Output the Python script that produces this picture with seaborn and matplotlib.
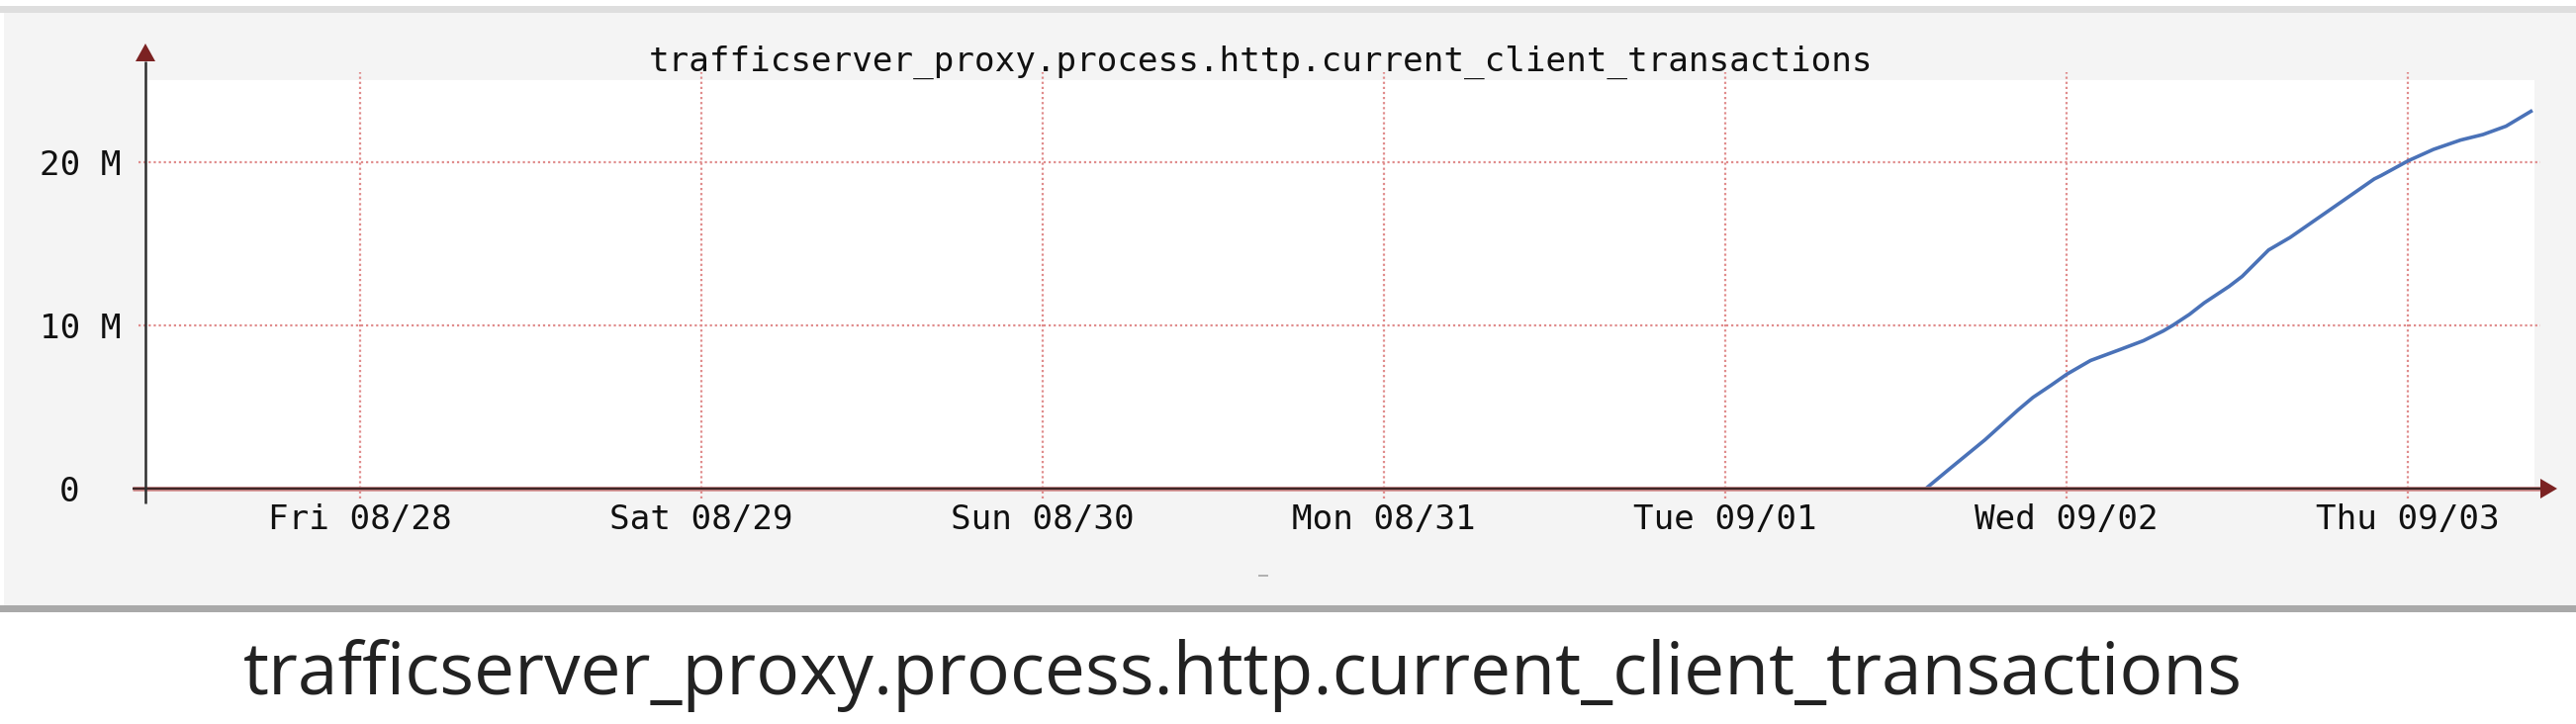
import pandas as pd
import seaborn as sns
import matplotlib.pyplot as plt
import matplotlib.dates as mdates
from matplotlib.patches import Rectangle, Polygon
from matplotlib.lines import Line2D
from matplotlib.ticker import FuncFormatter, MultipleLocator

# --- data ---
metric = 'trafficserver_proxy.process.http.current_client_transactions'
times = ['2020-09-01 14:05', '2020-09-01 15:42', '2020-09-01 18:15', '2020-09-01 20:34',
         '2020-09-01 21:37', '2020-09-01 22:53', '2020-09-02 00:00', '2020-09-02 01:40',
         '2020-09-02 03:39', '2020-09-02 05:23', '2020-09-02 06:47', '2020-09-02 07:28',
         '2020-09-02 08:38', '2020-09-02 09:40', '2020-09-02 11:25', '2020-09-02 12:20',
         '2020-09-02 14:11', '2020-09-02 15:42', '2020-09-02 18:08', '2020-09-02 21:37',
         '2020-09-02 22:05', '2020-09-03 00:00', '2020-09-03 01:47', '2020-09-03 03:41',
         '2020-09-03 05:16', '2020-09-03 06:53', '2020-09-03 08:38']
values_m = [0, 1.17, 2.99, 4.81,
            5.58, 6.32, 7.0, 7.84,
            8.48, 9.05, 9.65, 10.0,
            10.67, 11.37, 12.38, 12.99,
            14.6, 15.37, 16.84, 18.95,
            19.15, 20.06, 20.76, 21.33,
            21.67, 22.18, 23.09]
x_range = ['2020-08-27 08:53', '2020-09-03 08:53']
y_max = 25e6

df = pd.DataFrame({'time': pd.to_datetime(times), 'value': [v * 1e6 for v in values_m]})

W, H = 2604, 732
fig = plt.figure(figsize=(W / 100, H / 100), dpi=100)
fig.patch.set_facecolor('white')

# panel background and borders
fig.add_artist(Rectangle((4 / W, 1 - 612 / H), 1, (612 - 13) / H, transform=fig.transFigure,
                         facecolor='#f4f4f4', edgecolor='none', zorder=0))
fig.add_artist(Rectangle((0, 1 - 13 / H), 1, 7 / H, transform=fig.transFigure,
                         facecolor='#dedede', edgecolor='none', zorder=0))
fig.add_artist(Rectangle((0, 1 - 619 / H), 1, 7 / H, transform=fig.transFigure,
                         facecolor='#a9a9a9', edgecolor='none', zorder=0))
fig.add_artist(Line2D([1273 / W, 1281 / W], [1 - 582 / H] * 2, transform=fig.transFigure,
                      color='#b0b0b0', lw=1.4))

ax = fig.add_axes([147 / W, 1 - 494 / H, (2562 - 147) / W, (494 - 81) / H])
ax.set_facecolor('white')

sns.lineplot(data=df, x='time', y='value', ax=ax, color='#4a72b8', linewidth=2.6, zorder=4)

ax.set_xlim(pd.to_datetime(x_range[0]), pd.to_datetime(x_range[1]))
ax.set_ylim(0, y_max)
ax.set_xlabel('')
ax.set_ylabel('')
for s in ax.spines.values():
    s.set_visible(False)

mono = 'DejaVu Sans Mono'
ax.xaxis.set_major_locator(mdates.DayLocator())
ax.xaxis.set_major_formatter(mdates.DateFormatter('%a %m/%d'))
ax.yaxis.set_major_locator(MultipleLocator(10e6))
ax.yaxis.set_major_formatter(FuncFormatter(lambda v, p: f'{int(v / 1e6)} M' if v else '0  '))
ax.tick_params(axis='x', length=0, pad=11, labelsize=24.7, labelcolor='#111111')
ax.tick_params(axis='y', length=0, pad=18, labelsize=24.7, labelcolor='#111111')
for lab in ax.get_xticklabels() + ax.get_yticklabels():
    lab.set_family(mono)

# dotted grid that runs a little past the plot area
grid_kw = dict(color='#e08c8c', lw=1.6, ls=(0, (1, 1.3)), clip_on=False, zorder=1)
x0, x1 = ax.get_xlim()
for t in ax.xaxis.get_majorticklocs():
    if x0 < t < x1:
        ax.axvline(t, ymin=-10 / 413, ymax=1 + 8 / 413, **grid_kw)
for v in ax.yaxis.get_majorticklocs():
    if 0 < v <= y_max:
        ax.axhline(v, xmin=-7 / 2415, xmax=1 + 6 / 2415, **grid_kw)

# axis lines with arrow heads
ax.plot([-13 / 2415, 1 + 6 / 2415], [0, 0], transform=ax.transAxes, clip_on=False,
        color='#d58e8e', lw=3.4, zorder=5, solid_capstyle='butt')
ax.plot([-13 / 2415, 1 + 6 / 2415], [0, 0], transform=ax.transAxes, clip_on=False,
        color='#3e2626', lw=1.7, zorder=6, solid_capstyle='butt')
ax.plot([0, 0], [-15 / 413, 1 + 19 / 413], transform=ax.transAxes, clip_on=False,
        color='#2e2e2e', lw=1.8, zorder=6, solid_capstyle='butt')
arrow_col = '#7b2222'
ax.add_patch(Polygon([(-10 / 2415, 1 + 19 / 413), (10 / 2415, 1 + 19 / 413), (0, 1 + 37 / 413)],
                     closed=True, transform=ax.transAxes, clip_on=False,
                     facecolor=arrow_col, edgecolor='none', zorder=7))
ax.add_patch(Polygon([(1 + 6 / 2415, 10 / 413), (1 + 6 / 2415, -10 / 413), (1 + 23 / 2415, 0)],
                     closed=True, transform=ax.transAxes, clip_on=False,
                     facecolor=arrow_col, edgecolor='none', zorder=7))

# titles
fig.text(1274.5 / W, 1 - 72 / H, metric, family=mono, fontsize=24.7, color='#111111',
         ha='center', va='baseline')
fig.text(1256 / W, 1 - 702 / H, metric, family='Open Sans', fontsize=52.6, color='#222222',
         ha='center', va='baseline')

fig.savefig('out.png', dpi=100)
